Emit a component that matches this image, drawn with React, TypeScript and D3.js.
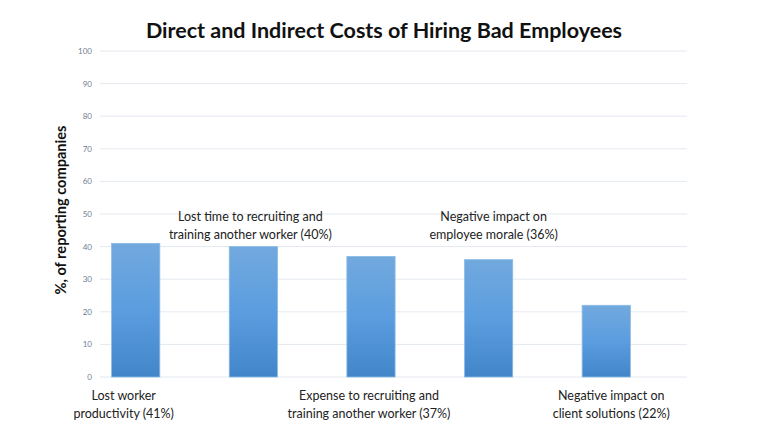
import React, { useEffect, useRef } from "react";
import * as d3 from "d3";

const categories = ["lost", "time", "expense", "morale", "client"];
const values = [41, 40, 37, 36, 22];
const labelLines = [
  ["Lost worker", "productivity (41%)"],
  ["Lost time to recruiting and", "training another worker (40%)"],
  ["Expense to recruiting and", "training another worker (37%)"],
  ["Negative impact on", "employee morale (36%)"],
  ["Negative impact on", "client solutions (22%)"],
];
// labels alternate below / above the chart
const labelAbove = [false, true, false, true, false];
const yTicks = [0, 10, 20, 30, 40, 50, 60, 70, 80, 90, 100];

const W = 768;
const H = 432;

const App: React.FC = () => {
  const svgRef = useRef<SVGSVGElement | null>(null);

  useEffect(() => {
    if (!svgRef.current) return;
    const svg = d3.select(svgRef.current);
    svg.selectAll("*").remove();

    const left = 100, right = 687, top = 51, bottom = 377;

    const x = d3.scaleBand<string>()
      .domain(categories)
      .range([left, right])
      .paddingInner(0.59)
      .paddingOuter(0.29)
      .align(0.17);

    const y = d3.scaleLinear().domain([0, 100]).range([bottom, top]);

    const defs = svg.append("defs");
    const grad = defs.append("linearGradient")
      .attr("id", "barFill")
      .attr("x1", 0).attr("y1", 0).attr("x2", 0).attr("y2", 1);
    grad.append("stop").attr("offset", "0%").attr("stop-color", "#72a9de");
    grad.append("stop").attr("offset", "50%").attr("stop-color", "#5b9ddf");
    grad.append("stop").attr("offset", "100%").attr("stop-color", "#4286c9");

    svg.append("rect").attr("width", W).attr("height", H).attr("fill", "#ffffff");

    // title
    svg.append("text")
      .attr("x", 384)
      .attr("y", 38)
      .attr("text-anchor", "middle")
      .attr("font-family", "Lato, sans-serif")
      .attr("font-weight", 700)
      .attr("font-size", 21.5)
      .attr("fill", "#111")
      .text("Direct and Indirect Costs of Hiring Bad Employees");

    // gridlines
    svg.append("g")
      .selectAll("line")
      .data(yTicks)
      .join("line")
      .attr("x1", left)
      .attr("x2", right)
      .attr("y1", d => y(d))
      .attr("y2", d => y(d))
      .attr("stroke", "#e4e9f0")
      .attr("stroke-width", 1);

    // y tick labels
    svg.append("g")
      .selectAll("text")
      .data(yTicks)
      .join("text")
      .attr("x", 92)
      .attr("y", d => y(d) + 3)
      .attr("text-anchor", "end")
      .attr("font-family", "Lato, sans-serif")
      .attr("font-size", 8)
      .attr("fill", "#6f7c90")
      .text(d => d);

    // y axis title
    svg.append("text")
      .attr("transform", `translate(66, 210) rotate(-90)`)
      .attr("text-anchor", "middle")
      .attr("font-family", "Lato, sans-serif")
      .attr("font-weight", 700)
      .attr("font-size", 14.6)
      .attr("fill", "#111")
      .text("%, of reporting companies");

    // bars
    svg.append("g")
      .selectAll("rect")
      .data(values)
      .join("rect")
      .attr("x", (_, i) => x(categories[i])!)
      .attr("y", d => y(d))
      .attr("width", x.bandwidth())
      .attr("height", d => y(0) - y(d))
      .attr("fill", "url(#barFill)")
      .attr("stroke", "#8bbbe6")
      .attr("stroke-width", 0.8);

    // category labels
    const shift = [-12, -3, -2, 5, 5];
    const lbl = svg.append("g")
      .selectAll("text")
      .data(labelLines)
      .join("text")
      .attr("text-anchor", "middle")
      .attr("font-family", "Lato, sans-serif")
      .attr("font-size", 12.5)
      .attr("fill", "#222");

    lbl.each(function (lines, i) {
      const cx = x(categories[i])! + x.bandwidth() / 2 + shift[i];
      const y0 = labelAbove[i] ? 221 : 400;
      d3.select(this)
        .selectAll("tspan")
        .data(lines)
        .join("tspan")
        .attr("x", cx)
        .attr("y", (_, j) => y0 + j * 18)
        .text(t => t);
    });
  }, []);

  return <svg ref={svgRef} width={W} height={H} style={{ display: "block", position: "absolute", left: 0, top: 0 }} />;
};

export default App;
